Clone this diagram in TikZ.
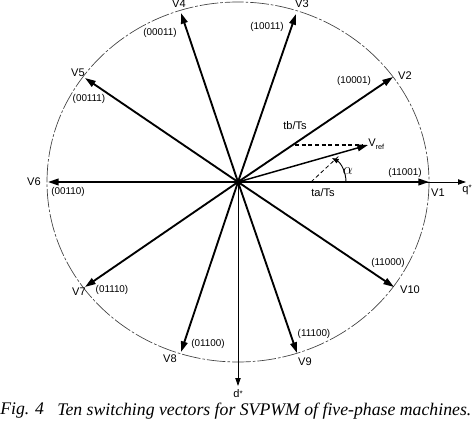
\documentclass[tikz,border=0pt]{standalone}
\usepackage{fontspec}
\setmainfont{Liberation Serif}
\newfontfamily\lsans{Liberation Sans}
\usetikzlibrary{arrows.meta}
\begin{document}
\begin{tikzpicture}[x=0.75pt,y=-0.75pt,
  vec/.style={line width=1.4pt,-{Triangle[length=8pt,width=5pt]}},
  axis/.style={line width=0.6pt,-{Triangle[length=6pt,width=4pt]}},
  circ/.style={line width=0.5pt,dash pattern=on 14pt off 1.5pt on 2pt off 1.5pt,black!75},
  helper/.style={line width=0.8pt,dashed,dash pattern=on 3pt off 2pt},
  code/.style={font=\lsans\fontsize{7.4}{8}\selectfont,inner sep=0pt},
  vlab/.style={font=\lsans\fontsize{8.3}{9}\selectfont,inner sep=0pt},
  captionstyle/.style={font=\itshape\fontsize{13.3}{15}\selectfont,inner sep=0pt,anchor=west}]
\useasboundingbox (0,0) rectangle (474,424);
\coordinate (O) at (238,182);
\draw[circ] (O) ellipse [x radius=191, y radius=180];
% axes
\coordinate (qend) at (466,182);
\coordinate (dend) at (238,386);
\draw[axis] (O) -- (qend);
\draw[axis] (O) -- (dend);
% vector tips
\coordinate (t1) at (429,182);
\coordinate (t2) at (393,77);
\coordinate (t3) at (296,14);
\coordinate (t4) at (181,13);
\coordinate (t5) at (85,78);
\coordinate (t6) at (48,182);
\coordinate (t7) at (85,287);
\coordinate (t8) at (181,352);
\coordinate (t9) at (297,353);
\coordinate (t10) at (394,287);
\foreach \i in {1,...,10} \draw[vec] (O) -- (t\i);
% Vref construction
\coordinate (vref) at (368,145);
\coordinate (tbp) at (295,145);
\coordinate (tbe) at (362,145);
\coordinate (tap) at (311,182);
\coordinate (tam) at (340,155);
\draw[vec,line width=1.1pt] (O) -- (vref);
\draw[helper] (tbp) -- (tbe);
\draw[helper,line width=0.6pt] (tap) -- (tam);
\coordinate (a0) at (346,182);
\coordinate (a1) at (332,158);
\draw[line width=0.7pt,-{Triangle[length=5pt,width=3.5pt]}] (a0) .. controls (346,172) and (341,163) .. (a1);
% labels
\node[vlab] (lV1) at (438,193) {V1};
\node[vlab] (lV2) at (405,76) {V2};
\node[vlab] (lV3) at (302,4) {V3};
\node[vlab] (lV4) at (179,4) {V4};
\node[vlab] (lV5) at (78,73) {V5};
\node[vlab] (lV6) at (34,182) {V6};
\node[vlab] (lV7) at (79,292) {V7};
\node[vlab] (lV8) at (170,359) {V8};
\node[vlab] (lV9) at (305,362) {V9};
\node[vlab] (lV10) at (410,290) {V10};
\node[code] (c1) at (405,173) {(11001)};
\node[code] (c2) at (354,81) {(10001)};
\node[code] (c3) at (267,27) {(10011)};
\node[code] (c4) at (160,33) {(00011)};
\node[code] (c5) at (89,99) {(00111)};
\node[code] (c6) at (68,192) {(00110)};
\node[code] (c7) at (112,290) {(01110)};
\node[code] (c8) at (208,344) {(01100)};
\node[code] (c9) at (314,334) {(11100)};
\node[code] (c10) at (388,263) {(11000)};
\node[vlab] (ltb) at (295,126) {tb/Ts};
\node[vlab] (lta) at (323,193) {ta/Ts};
\node[vlab,anchor=west] (lref) at (368,144) {V\raisebox{-2pt}{\fontsize{5.5}{6}\selectfont ref}};
\node[inner sep=0pt,font=\fontsize{12}{12}\selectfont] (lal) at (348,171) {$\alpha$};
\node[vlab] (lq) at (467,190) {q\raisebox{2pt}{\fontsize{6}{6}\selectfont *}};
\node[vlab] (ld) at (238,394) {d\raisebox{1pt}{\fontsize{6}{6}\selectfont *}};
\node[captionstyle] (fig) at (0,411) {Fig. 4};
\node[captionstyle] (captxt) at (57,411) {Ten switching vectors for SVPWM of five-phase machines.};
\end{tikzpicture}
\end{document}
